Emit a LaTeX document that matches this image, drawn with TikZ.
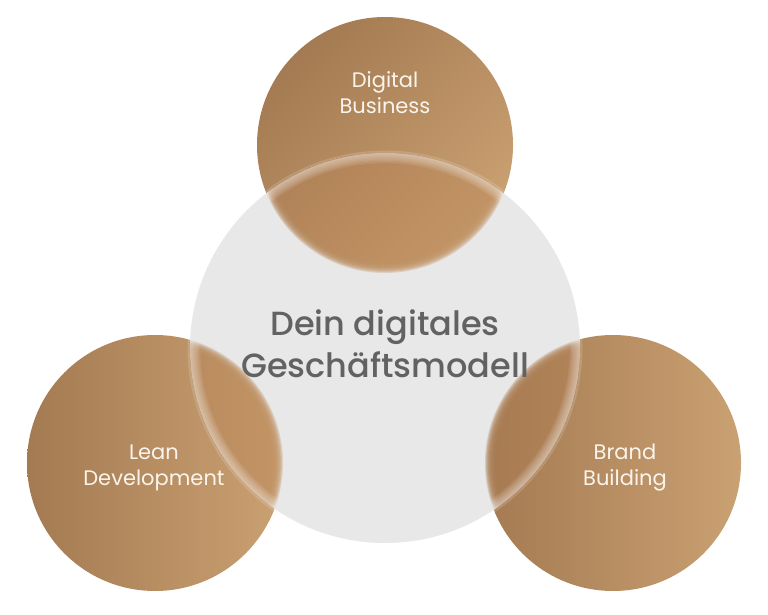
\documentclass[tikz,border=0pt]{standalone}
\usepackage{fontspec}
\setmainfont{Poppins}
\newfontfamily\corefont{Poppins Medium}
\usepackage{tikz}

\definecolor{bronzeDark}{RGB}{164,122,82}
\definecolor{bronzeLight}{RGB}{202,161,114}
\definecolor{shadowDark}{RGB}{168,122,80}
\definecolor{shadowLight}{RGB}{194,148,100}
\definecolor{glass}{RGB}{232,232,232}
\definecolor{coreText}{RGB}{98,98,98}
\definecolor{petalText}{RGB}{250,244,236}

\begin{document}
\begin{tikzpicture}[x=1pt, y=-1pt,
    petal/.style={circle, inner sep=0pt, minimum size=256pt},
    side/.style={petal, left color=bronzeDark, right color=bronzeLight},
    blur/.style={opacity=0.28},
    petallabel/.style={align=center, text=petalText, font=\fontsize{21}{26}\selectfont},
    corelabel/.style={align=center, text=coreText, font=\corefont\fontsize{33.5}{42}\selectfont}]
    \useasboundingbox (0,0) rectangle (768,615);
    \fill[white] (0,0) rectangle (768,615);

    \node[petal, top color=bronzeDark, bottom color=bronzeLight, shading angle=45] (digital) at (385,145) {};
    \node[side] (lean) at (155,463) {};
    \node[side] (brand) at (613,463) {};

    \draw[white, opacity=0.15, line width=3pt] (385,348) circle[radius=196pt];
    \node[circle, fill=glass, inner sep=0pt, minimum size=390pt] (core) at (385,348) {};

    \begin{scope}
        \clip (core.center) circle[radius=195pt];
        \foreach \k in {0,...,11} {
            \shade[blur, top color=shadowDark, bottom color=shadowLight, shading angle=45] (digital.center) circle[radius=128pt-\k pt];
            \shade[blur, left color=shadowDark, right color=shadowLight] (lean.center) circle[radius=128pt-\k pt];
            \shade[blur, left color=shadowDark, right color=shadowLight] (brand.center) circle[radius=128pt-\k pt];
        }
        \foreach \p in {digital,lean,brand} {
            \begin{scope}
                \clip (\p.center) circle[radius=128pt];
                \foreach \k in {1,...,8}
                    \draw[white, opacity=0.07, line width=2.6*\k pt] (core.center) circle[radius=195pt];
            \end{scope}
        }
    \end{scope}

    \node[petallabel] (digitalText) at (385,93) {Digital\\Business};
    \node[petallabel] (leanText) at (154,468) {Lean\\Development};
    \node[petallabel] (brandText) at (625,468) {Brand\\Building};
    \node[corelabel] (coreText) at (385,344) {Dein digitales\\Geschäftsmodell};
\end{tikzpicture}
\end{document}
